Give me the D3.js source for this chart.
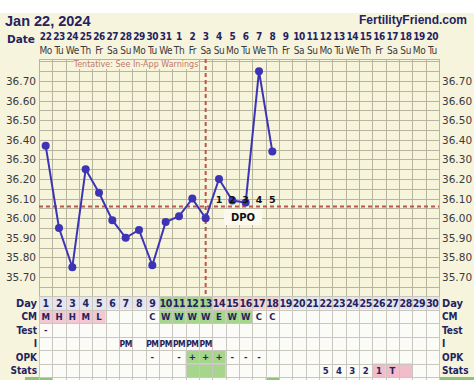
<!DOCTYPE html>
<html><head><meta charset="utf-8">
<script src="https://cdn.jsdelivr.net/npm/d3@7"></script>
<style>html,body{margin:0;padding:0;background:#fff;}svg{display:block;}</style>
</head><body>
<svg id="c" width="474" height="380"></svg>
<script>
const days = d3.range(1, 31);
const dates = ["22","23","24","25","26","27","28","29","30","31","1","2","3","4","5","6","7","8","9","10","11","12","13","14","15","16","17","18","19","20"];
const dows = ["Mo","Tu","We","Th","Fr","Sa","Su","Mo","Tu","We","Th","Fr","Sa","Su","Mo","Tu","We","Th","Fr","Sa","Su","Mo","Tu","We","Th","Fr","Sa","Su","Mo","Tu"];
const temps = [36.37,35.95,35.75,36.25,36.13,35.99,35.90,35.94,35.76,35.98,36.01,36.10,36.00,36.20,36.09,36.08,36.75,36.34];
const yTicks = [36.70,36.60,36.50,36.40,36.30,36.20,36.10,36.00,35.90,35.80,35.70];
const coverline = 36.06;
const ovulationDay = 13;
const dpoLabels = ["1","2","3","4","5"];
const cm = ["M","H","H","M","L","","","","C","W","W","W","W","E","W","W","C","C"];
const testRow = ["-"];
const iRow = ["","","","","","","PM","","PM","PM","PM","PM","PM"];
const opk = ["","","","","","","","","-","","-","+","+","+","-","-","-"];
const stats = ["","","","","","","","","","","","","","","","","","","","","","5","4","3","2","1","T"];
const rowLabels = ["Day","CM","Test","I","OPK","Stats"];

const svg = d3.select("#c");
const W = 474, H = 380;
const x0 = 39, x1 = 439, gTop = 59, gBot = 296;
const x = d3.scaleBand().domain(days).range([x0, x1]);
const cx = d => x(d) + x.bandwidth() / 2;
const y = d3.scaleLinear().domain([35.70, 36.70]).range([277, 81]);
const navy = "#23235e";
const green = "#a6d68c", pinkCM = "#f3c7d3", pinkDay = "#f4d3cf", lav = "#e6e5ee", pinkStat = "#f2bccb";

// backgrounds
svg.append("rect").attr("width", W).attr("height", H).attr("fill", "#f7f4de");
svg.append("rect").attr("width", W).attr("height", 13).attr("fill", "#ffffff");
svg.append("rect").attr("x", x0).attr("y", gTop).attr("width", x1 - x0).attr("height", gBot - gTop).attr("fill", "#f7f4dc");

// header
svg.append("text").attr("x", 5).attr("y", 26).text("Jan 22, 2024")
  .attr("font-family", "Liberation Sans, Arial, sans-serif").attr("font-weight", "bold").attr("font-size", 14.5).attr("fill", navy);
svg.append("text").attr("x", 467).attr("y", 24).attr("text-anchor", "end").text("FertilityFriend.com")
  .attr("font-family", "Liberation Sans, Arial, sans-serif").attr("font-weight", "bold").attr("font-size", 12).attr("fill", navy);
svg.append("text").attr("x", 35).attr("y", 43).attr("text-anchor", "end").text("Date")
  .attr("font-family", "DejaVu Sans, sans-serif").attr("font-weight", "bold").attr("font-size", 10.5).attr("fill", navy);
svg.append("g").selectAll("text").data(days).join("text")
  .attr("x", d => cx(d)).attr("y", 40).attr("text-anchor", "middle").text((d, i) => dates[i])
  .attr("font-family", "DejaVu Sans Condensed, DejaVu Sans, sans-serif").attr("font-weight", "bold").attr("font-size", 10).attr("fill", navy)
  .attr("letter-spacing", -0.4);
svg.append("g").selectAll("text").data(days).join("text")
  .attr("x", d => cx(d)).attr("y", 54).attr("text-anchor", "middle").text((d, i) => dows[i])
  .attr("font-family", "DejaVu Sans Condensed, DejaVu Sans, sans-serif").attr("font-size", 10).attr("fill", "#3a3a3a")
  .attr("letter-spacing", -0.4);

// grid
const grid = svg.append("g").attr("stroke", "#b9b4a0").attr("stroke-width", 1);
grid.selectAll("line.v").data(d3.range(0, 31)).join("line")
  .attr("x1", i => Math.round(x0 + i * x.bandwidth()) + 0.5).attr("x2", i => Math.round(x0 + i * x.bandwidth()) + 0.5)
  .attr("y1", gTop).attr("y2", gBot);
const hLines = d3.range(0, 25).map(i => 35.60 + i * 0.05);
grid.selectAll("line.h").data(hLines).join("line")
  .attr("x1", x0).attr("x2", x1)
  .attr("y1", d => Math.round(y(d)) + 0.5).attr("y2", d => Math.round(y(d)) + 0.5);
grid.append("line").attr("x1", x0).attr("x2", x1).attr("y1", gTop + 0.5).attr("y2", gTop + 0.5);

// y labels
const yl = svg.append("g").attr("font-family", "DejaVu Sans, sans-serif").attr("font-size", 10.5).attr("fill", "#3a3a3a");
yl.selectAll("text.l").data(yTicks).join("text").attr("class", "l")
  .attr("x", 36).attr("y", d => y(d) + 4).attr("text-anchor", "end").text(d => d.toFixed(2));
yl.selectAll("text.r").data(yTicks).join("text").attr("class", "r")
  .attr("x", 442).attr("y", d => y(d) + 4).attr("text-anchor", "start").text(d => d.toFixed(2));

// tentative text
svg.append("rect").attr("x", 74).attr("y", 60).attr("width", 124).attr("height", 9).attr("fill", "#f7f4dc");
svg.append("text").attr("x", 136).attr("y", 67).attr("text-anchor", "middle").text("Tentative: See In-App Warnings")
  .attr("font-family", "DejaVu Sans, sans-serif").attr("font-size", 8).attr("fill", "#c0786a");

// coverline & ovulation line
svg.append("line").attr("x1", x0).attr("x2", x1).attr("y1", y(coverline)).attr("y2", y(coverline))
  .attr("stroke", "#b8574c").attr("stroke-width", 2).attr("stroke-dasharray", "4,3");
svg.append("line").attr("x1", cx(ovulationDay)).attr("x2", cx(ovulationDay)).attr("y1", gTop).attr("y2", gBot + 1)
  .attr("stroke", "#b8574c").attr("stroke-width", 2).attr("stroke-dasharray", "4,3");

// DPO box
svg.append("rect").attr("x", 224).attr("y", 209).attr("width", 38).attr("height", 16).attr("fill", "#fbf9ee");
svg.append("text").attr("x", 243).attr("y", 221).attr("text-anchor", "middle").text("DPO")
  .attr("font-family", "DejaVu Sans, sans-serif").attr("font-weight", "bold").attr("font-size", 10).attr("fill", "#111");

// temperature line
const pts = temps.map((t, i) => ({d: i + 1, t}));
svg.append("path").datum(pts).attr("fill", "none").attr("stroke", "#3c34b4").attr("stroke-width", 2)
  .attr("d", d3.line().x(p => cx(p.d)).y(p => y(p.t)));
svg.append("g").selectAll("circle").data(pts).join("circle")
  .attr("cx", p => cx(p.d)).attr("cy", p => y(p.t)).attr("r", 4).attr("fill", "#3c34b4");

// DPO numbers
svg.append("g").selectAll("text").data(dpoLabels).join("text")
  .attr("x", (d, i) => cx(ovulationDay + 1 + i)).attr("y", 203).attr("text-anchor", "middle").text(d => d)
  .attr("font-family", "DejaVu Sans, sans-serif").attr("font-weight", "bold").attr("font-size", 9.5).attr("fill", "#111");

// bottom table
const rowTop = 296, rowH = 13.5;
const tbl = svg.append("g");
tbl.append("rect").attr("x", x0).attr("y", rowTop).attr("width", x1 - x0).attr("height", H - rowTop).attr("fill", "#fbfbf7");
const cellFill = (r, d) => {
  if (r === 0) {
    if (d >= 10 && d <= 13) return green;
    if (d >= 14 && d <= 18) return pinkDay;
    return lav;
  }
  if (r === 1) {
    const v = cm[d - 1] || "";
    if ("MHL".includes(v) && v) return pinkCM;
    if (v === "W" || v === "E") return green;
  }
  if ((r === 4 || r === 5) && d >= 12 && d <= 14) return green;
  if (r === 5 && d >= 26 && d <= 28) return pinkStat;
  if (r === 6 && (d === 1 || d === 18)) return "#8fc27a";
  return null;
};
const cells = [];
for (let r = 0; r < 7; r++) for (const d of days) { const f = cellFill(r, d); if (f) cells.push({r, d, f}); }
tbl.selectAll("rect.c").data(cells).join("rect").attr("class", "c")
  .attr("x", c => x(c.d)).attr("y", c => rowTop + c.r * rowH).attr("width", x.bandwidth()).attr("height", rowH).attr("fill", c => c.f);
// table grid lines
const tg = tbl.append("g").attr("stroke", "#c9c7bd").attr("stroke-width", 1);
tg.selectAll("line.v").data(d3.range(0, 31)).join("line")
  .attr("x1", i => Math.round(x0 + i * x.bandwidth()) + 0.5).attr("x2", i => Math.round(x0 + i * x.bandwidth()) + 0.5)
  .attr("y1", rowTop).attr("y2", H);
tg.selectAll("line.h").data(d3.range(0, 7)).join("line")
  .attr("x1", x0).attr("x2", x1)
  .attr("y1", r => Math.round(rowTop + r * rowH) + 0.5).attr("y2", r => Math.round(rowTop + r * rowH) + 0.5);
svg.append("rect").attr("x", 25).attr("y", rowTop + 6 * rowH).attr("width", 14).attr("height", 5).attr("fill", "#8fc27a");
svg.append("rect").attr("x", 440).attr("y", rowTop + 6 * rowH).attr("width", 34).attr("height", 5).attr("fill", "#8fc27a");

// row labels
const lblFont = "DejaVu Sans Condensed, DejaVu Sans, sans-serif";
svg.append("g").selectAll("text").data(rowLabels).join("text")
  .attr("x", 37).attr("y", (d, i) => rowTop + i * rowH + 10.5).attr("text-anchor", "end").text(d => d)
  .attr("font-family", lblFont).attr("font-weight", "bold").attr("font-size", (d, i) => i === 0 ? 11 : 10).attr("fill", navy);
svg.append("g").selectAll("text").data(rowLabels).join("text")
  .attr("x", 442).attr("y", (d, i) => rowTop + i * rowH + 10.5).attr("text-anchor", "start").text(d => d)
  .attr("font-family", lblFont).attr("font-weight", "bold").attr("font-size", (d, i) => i === 0 ? 11 : 10).attr("fill", navy);

// day numbers
tbl.append("g").selectAll("text").data(days).join("text")
  .attr("x", d => cx(d)).attr("y", rowTop + 10.5).attr("text-anchor", "middle").text(d => d)
  .attr("font-family", lblFont).attr("font-weight", "bold").attr("font-size", 10.5).attr("fill", navy).attr("letter-spacing", -0.4);

// other rows
const rowsData = [[1, cm], [2, testRow], [3, iRow], [4, opk], [5, stats]];
const txt = [];
rowsData.forEach(([r, arr]) => arr.forEach((v, i) => { if (v) txt.push({r, d: i + 1, v}); }));
tbl.append("g").selectAll("text").data(txt).join("text")
  .attr("x", t => cx(t.d)).attr("y", t => rowTop + t.r * rowH + 10).attr("text-anchor", "middle").text(t => t.v)
  .attr("font-family", lblFont).attr("font-weight", "bold").attr("font-size", t => t.v === "PM" ? 8.5 : 9.5)
  .attr("fill", navy).attr("letter-spacing", t => t.v === "PM" ? -0.5 : 0);
</script>
</body></html>
